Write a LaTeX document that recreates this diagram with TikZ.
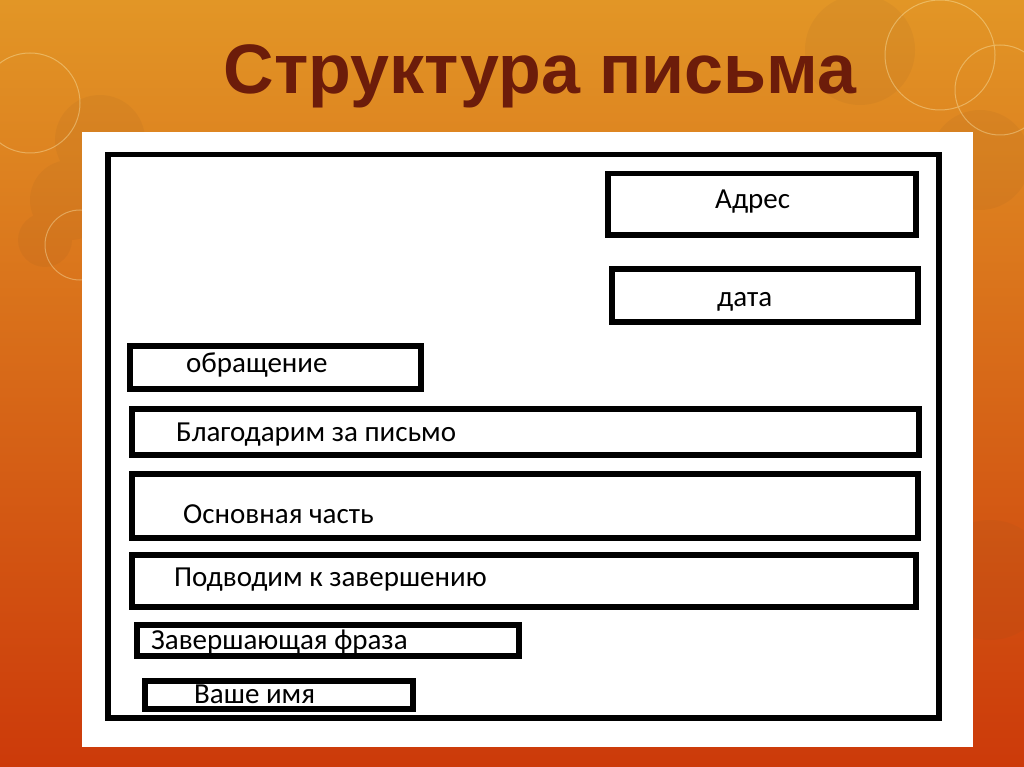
\documentclass[tikz,border=0pt]{standalone}
\usepackage{fontspec}
\setmainfont{Carlito}
\newfontfamily\titlefont{Liberation Sans}
\usetikzlibrary{positioning}

\definecolor{bgtop}{RGB}{226,150,38}
\definecolor{bgmid}{RGB}{222,112,32}
\definecolor{bgbot}{RGB}{204,58,10}
\definecolor{titlebrown}{RGB}{108,28,10}

\begin{document}
\begin{tikzpicture}[x=1pt,y=-1pt,
  box/.style={draw,rectangle,line width=5.5pt,inner sep=0pt,anchor=north west},
  lbl/.style={anchor=west,inner sep=0pt,font=\fontsize{29}{33}\selectfont}]
\useasboundingbox (0,0) rectangle (1024,767);
  % Background
  \shade[top color=bgtop,middle color=bgmid,bottom color=bgbot] (0,0) rectangle (1024,767);
  \fill[brown!60!black,opacity=0.07] (100,140) circle (45) (70,200) circle (40) (45,240) circle (27)
    (860,50) circle (55) (980,160) circle (50) (990,580) circle (60);
  \draw[white!80!yellow,opacity=0.35,line width=1pt] (30,103) circle (50) (80,245) circle (35)
    (940,55) circle (55) (1000,90) circle (45);
  \node[font=\titlefont\bfseries\fontsize{70}{76}\selectfont,text=titlebrown] (title) at (540,76) {Структура письма};
  \fill[white] (82,132) rectangle (973,747);

  \node[box,minimum width=831,minimum height=563] (letter) at (105,152) {};
  \node[box,minimum width=308,minimum height=61] (adres) at (605,171) {};
  \node[box,minimum width=306,minimum height=53] (data) at (609,266) {};
  \node[box,minimum width=291,minimum height=43] (obr) at (127,343) {};
  \node[box,minimum width=787,minimum height=46] (blag) at (129,406) {};
  \node[box,minimum width=786,minimum height=64] (osn) at (129,471) {};
  \node[box,minimum width=784,minimum height=52] (podv) at (129,552) {};
  \node[box,minimum width=382,minimum height=31] (zav) at (134,622) {};
  \node[box,minimum width=268,minimum height=28] (imya) at (142,678) {};

  \node[lbl,right=110 of adres.west,yshift=3] {Адрес};
  \node[lbl,right=108 of data.west,yshift=-7] {дата};
  \node[lbl,right=59 of obr.west,yshift=2] {обращение};
  \node[lbl,right=47 of blag.west,yshift=-3] {Благодарим за письмо};
  \node[lbl,right=54 of osn.west,yshift=-8] {Основная часть};
  \node[lbl,right=45 of podv.west,yshift=1] {Подводим к завершению};
  \node[lbl,right=17 of zav.west,yshift=-2] {Завершающая фраза};
  \node[lbl,right=52 of imya.west] {Ваше имя};
\end{tikzpicture}
\end{document}
